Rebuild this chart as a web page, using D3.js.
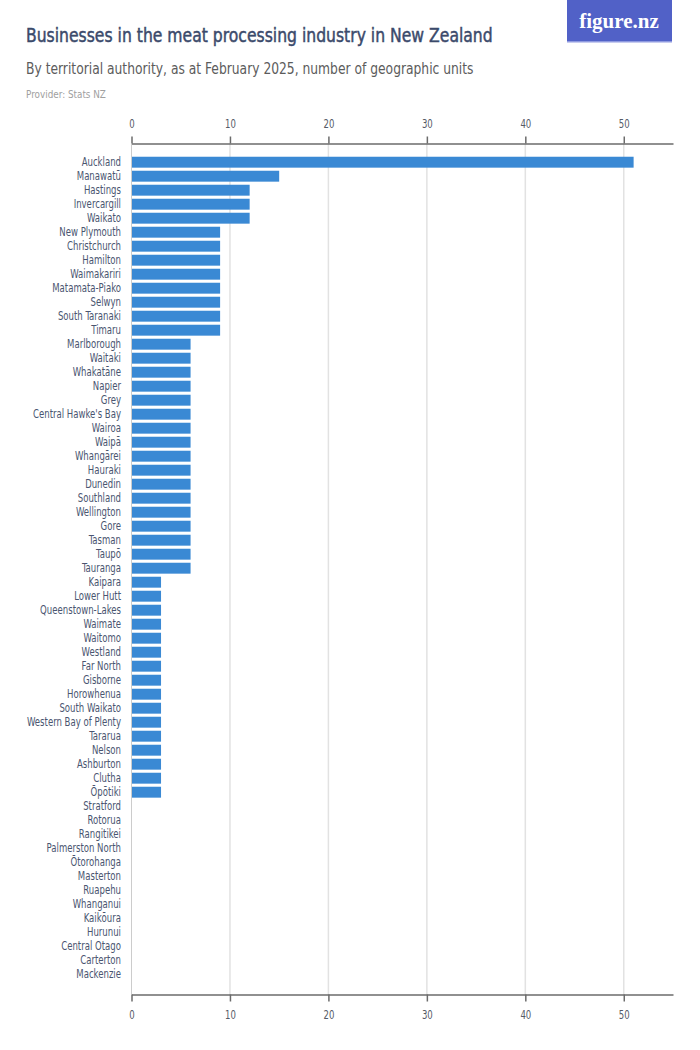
<!DOCTYPE html>
<html>
<head>
<meta charset="utf-8">
<script src="https://cdn.jsdelivr.net/npm/d3@7"></script>
<style>
  html, body { margin: 0; padding: 0; background: #fff; }
  svg { display: block; }
  text { font-family: "Liberation Sans Narrow", "DejaVu Sans Condensed", "Roboto", sans-serif; }
</style>
</head>
<body>
<script>
const categories = ["Auckland","Manawatū","Hastings","Invercargill","Waikato","New Plymouth","Christchurch","Hamilton","Waimakariri","Matamata-Piako","Selwyn","South Taranaki","Timaru","Marlborough","Waitaki","Whakatāne","Napier","Grey","Central Hawke's Bay","Wairoa","Waipā","Whangārei","Hauraki","Dunedin","Southland","Wellington","Gore","Tasman","Taupō","Tauranga","Kaipara","Lower Hutt","Queenstown-Lakes","Waimate","Waitomo","Westland","Far North","Gisborne","Horowhenua","South Waikato","Western Bay of Plenty","Tararua","Nelson","Ashburton","Clutha","Ōpōtiki","Stratford","Rotorua","Rangitikei","Palmerston North","Ōtorohanga","Masterton","Ruapehu","Whanganui","Kaikōura","Hurunui","Central Otago","Carterton","Mackenzie"];
const values = [51,15,12,12,12,9,9,9,9,9,9,9,9,6,6,6,6,6,6,6,6,6,6,6,6,6,6,6,6,6,3,3,3,3,3,3,3,3,3,3,3,3,3,3,3,3,0,0,0,0,0,0,0,0,0,0,0,0,0];
const xTicks = [0,10,20,30,40,50];
const title = "Businesses in the meat processing industry in New Zealand";
const subtitle = "By territorial authority, as at February 2025, number of geographic units";
const provider = "Provider: Stats NZ";

const W = 700, H = 1050;
const svg = d3.select("body").append("svg").attr("width", W).attr("height", H);

// place text at (x,y) and squeeze horizontally to a target width
function squeezeTo(sel, x, y, target) {
  sel.attr("x", 0).attr("y", 0);
  const len = sel.node().getComputedTextLength();
  const s = len > 0 ? target / len : 1;
  sel.attr("transform", `translate(${x},${y}) scale(${s.toFixed(4)},1)`);
}
const SQ = 0.76; // horizontal condense factor for small text

// Header
squeezeTo(svg.append("text").attr("font-size", 19.5)
  .attr("fill", "#3b4a6b").attr("stroke", "#3b4a6b").attr("stroke-width", 0.45)
  .text(title), 26, 42, 467);
squeezeTo(svg.append("text").attr("font-size", 16)
  .attr("fill", "#5c5c5c").text(subtitle), 26, 74, 448);
squeezeTo(svg.append("text").attr("font-size", 10.5)
  .attr("fill", "#a0a0a0").text(provider), 26, 98, 80);

// Logo
svg.append("rect").attr("x", 567).attr("y", 0).attr("width", 105).attr("height", 42).attr("fill", "#5161c7");
svg.append("rect").attr("x", 567).attr("y", 41).attr("width", 105).attr("height", 1.5).attr("fill", "#8f9ae0");
svg.append("text").attr("x", 619).attr("y", 28).attr("text-anchor", "middle")
  .attr("font-size", 21).attr("font-weight", "bold")
  .style("font-family", "'Liberation Serif', 'DejaVu Serif', serif")
  .attr("fill", "#fff").text("figure.nz");

// Scales
const x = d3.scaleLinear().domain([0, 55]).range([131.5, 673]);
const y = d3.scaleBand().domain(categories).range([155.2, 981.2]).paddingInner(0.22).paddingOuter(0.11);
const plotTop = 143.5, plotBottom = 994.5;

// Gridlines
svg.append("g").selectAll("line").data(xTicks.slice(1)).join("line")
  .attr("x1", d => x(d)).attr("x2", d => x(d))
  .attr("y1", plotTop).attr("y2", plotBottom)
  .attr("stroke", "#e2e2e2").attr("stroke-width", 1.5);

// Bars
svg.append("g").selectAll("rect").data(categories).join("rect")
  .attr("x", x(0))
  .attr("y", d => y(d))
  .attr("width", (d, i) => x(values[i]) - x(0))
  .attr("height", y.bandwidth())
  .attr("fill", "#3a89d4");

// Zero line
svg.append("line").attr("x1", x(0)).attr("x2", x(0)).attr("y1", plotTop).attr("y2", plotBottom)
  .attr("stroke", "#cccccc").attr("stroke-width", 1);

// Axes
function styleAxis(g) {
  g.select(".domain").attr("stroke", "#6b6b6b").attr("stroke-width", 1.5);
  g.selectAll(".tick line").attr("stroke", "#6b6b6b").attr("stroke-width", 1.5);
  g.selectAll(".tick text").attr("fill", "#555a66").attr("font-size", 12.5)
    .attr("transform", `scale(${SQ},1)`);
}
const topAxis = svg.append("g").attr("transform", `translate(0,${plotTop})`)
  .call(d3.axisTop(x).tickValues(xTicks).tickSizeInner(7).tickSizeOuter(0).tickPadding(9).tickFormat(d3.format("d")));
styleAxis(topAxis);
const botAxis = svg.append("g").attr("transform", `translate(0,${plotBottom})`)
  .call(d3.axisBottom(x).tickValues(xTicks).tickSizeInner(7).tickSizeOuter(0).tickPadding(9).tickFormat(d3.format("d")));
styleAxis(botAxis);

// Category labels
svg.append("g").selectAll("text").data(categories).join("text")
  .attr("transform", d => `translate(121,${y(d) + y.bandwidth() / 2}) scale(${SQ},1)`)
  .attr("dy", "0.33em")
  .attr("text-anchor", "end")
  .attr("font-size", 12.5)
  .attr("fill", "#4a5570")
  .text(d => d);
</script>
</body>
</html>
